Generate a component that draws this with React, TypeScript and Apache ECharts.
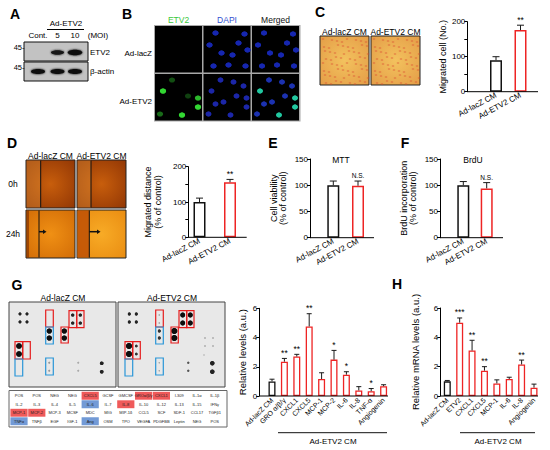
import React, { useEffect, useRef } from 'react';
import * as echarts from 'echarts';

const FONT = 'Arial, "Liberation Sans", Helvetica, sans-serif';
const RED = '#ee2424';
const BLACK = '#111111';

// ---------------- data ----------------
const twoGroups = ['Ad-lacZ CM', 'Ad-ETV2 CM'];

const cValues = [90, 176];
const cErrors = [10, 14];
const cMarks = ['', '**'];
const cTickLabels = [0, 100, 200];

const dValues = [100, 156];
const dErrors = [11, 8];
const dMarks = ['', '**'];
const dTickLabels = [0, 100, 200];

const eValues = [100, 99];
const eErrors = [8, 9];
const eMarks = ['', 'N.S.'];
const eTickLabels = [0, 50, 100, 150];

const fValues = [100, 94];
const fErrors = [7, 11];
const fMarks = ['', 'N.S.'];
const fTickLabels = [0, 50, 100, 150];

const gCategories = ['Ad-lacZ CM', 'GRO α/β/γ', 'CXCL1', 'CXCL5', 'MCP-1', 'MCP-2', 'IL-6', 'IL-8', 'TNF-α', 'Angiogenin'];
const gValues = [1.0, 2.35, 2.7, 4.76, 1.16, 2.49, 1.46, 0.38, 0.33, 0.67];
const gErrors = [0.15, 0.22, 0.15, 0.87, 0.43, 0.63, 0.2, 0.26, 0.18, 0.1];
const gMarks = ['', '**', '**', '**', '', '*', '*', '', '*', ''];
const gTickLabels = [0, 2, 4, 6];

const hCategories = ['Ad-lacZ CM', 'ETV2', 'CXCL1', 'CXCL5', 'MCP-1', 'IL-6', 'IL-8', 'Angiogenin'];
const hValues = [1.0, 5.0, 3.1, 1.73, 0.86, 1.16, 2.15, 0.57];
const hErrors = [0.06, 0.32, 0.7, 0.27, 0.24, 0.12, 0.3, 0.24];
const hMarks = ['', '***', '**', '**', '', '', '**', ''];
const hTickLabels = [0, 2, 4, 6];

// texts of the image panels
const blotLanes = ['Cont.', '5', '10', '(MOI)'];
const blotRows = ['ETV2', 'β-actin'];
const ifColumns = ['ETV2', 'DAPI', 'Merged'];
const ifRows = ['Ad-lacZ', 'Ad-ETV2'];
const scratchRows = ['0h', '24h'];
const arrayTable = [
  ['POS', 'POS', 'NEG', 'NEG', 'CXCL5', 'GCSF', 'GMCSF', 'GROα/β/γ', 'CXCL1', 'I-309', 'IL-1α', 'IL-1β'],
  ['IL-2', 'IL-3', 'IL-4', 'IL-5', 'IL-6', 'IL-7', 'IL-8', 'IL-10', 'IL-12', 'IL-13', 'IL-15', 'IFNγ'],
  ['MCP-1', 'MCP-2', 'MCP-3', 'MCSF', 'MDC', 'MIG', 'MIP-1δ', 'CCL5', 'SCF', 'SDF-1', 'CCL17', 'TGFβ1'],
  ['TNFα', 'TNFβ', 'EGF', 'IGF-1', 'Ang', 'OSM', 'TPO', 'VEGFA', 'PDGFBB', 'Leptin', 'NEG', 'POS'],
];
const arrayUp = [[0, 4], [0, 7], [0, 8], [1, 6], [2, 0], [2, 1]];
const arrayDown = [[1, 4], [3, 0], [3, 4]];

// ---------------- decoration layout (images) ----------------
const nucleiLacZ = [[12, 7], [41, 8], [35, 17], [6, 19], [18, 27], [29, 29], [25, 39], [42, 40], [10, 40], [44, 24]];
const nucleiEtv2 = [[8, 17, 1], [17, 6, 0.3], [33, 22, 0.25], [43, 24, 0.7], [43, 33, 1], [27, 41, 1], [5, 40, 0.4], [30, 8, 0], [20, 28, 0], [40, 12, 0], [12, 30, 0]];

const blot1Dots = [
  [20, 314, 1.4, '#222'], [27, 314, 1.4, '#222'], [20, 322, 1.4, '#222'], [27, 322, 1.4, '#222'],
  [49.3, 331, 2.6, '#111'], [49.3, 338, 2.6, '#111'],
  [64.3, 331, 2.6, '#111'], [64.3, 338, 2.6, '#111'],
  [72.7, 315, 1.6, '#222'], [80.3, 315, 1.6, '#222'], [72.7, 323, 1.6, '#222'], [80.3, 323, 1.6, '#222'],
  [19, 346, 2.8, '#111'], [19, 354, 2.8, '#111'],
  [49.3, 362.7, 0.9, '#999'], [49.3, 370.7, 0.9, '#999'],
  [78.3, 362.7, 0.9, '#aaa'], [78.3, 370.7, 0.9, '#aaa'],
  [101.7, 363.3, 1.8, '#222'], [101.7, 371.7, 1.8, '#222'],
];
const blot2Dots = [
  [129.3, 314, 1.5, '#222'], [136.3, 314, 1.5, '#222'], [129.3, 322, 1.5, '#222'], [136.3, 322, 1.5, '#222'],
  [159.3, 315, 0.8, '#aaa'], [159.3, 323, 0.8, '#aaa'],
  [159.3, 331, 1.5, '#333'], [159.3, 338, 1.5, '#333'],
  [174.3, 331, 3, '#111'], [174.3, 338, 3, '#111'],
  [182.7, 315, 2.4, '#111'], [190.3, 315, 2.4, '#111'], [182.7, 323, 2.4, '#111'], [190.3, 323, 2.4, '#111'],
  [129, 346, 3, '#111'], [129, 354, 3, '#111'], [136.3, 346, 1.3, '#333'], [136.3, 354, 1.3, '#333'],
  [159.3, 362.7, 0.7, '#aaa'], [159.3, 370.7, 0.7, '#aaa'],
  [205, 338, 1, '#bbb'], [213, 338, 1, '#bbb'], [205, 346, 1, '#bbb'], [213, 346, 1, '#bbb'], [204, 355, 1, '#ccc'],
  [188.3, 362.7, 1, '#555'], [188.3, 370.7, 1, '#555'],
  [212.3, 363.3, 2.2, '#222'], [212.3, 371.7, 2.2, '#222'],
];
const blotRedBoxes = [[45.7, 310, 7.6, 17], [61, 327, 7.3, 16], [69, 310.7, 7.7, 17], [76.7, 310.7, 7.3, 17], [15, 341.7, 7.7, 17.3], [22.7, 341.7, 7.6, 17.3]];
const blotBlueBoxes = [[45.7, 327, 7.6, 17], [15, 359, 7.7, 17], [45.7, 358, 7.6, 17]];

// ---------------- helpers ----------------
function txt(text: string, x: number, y: number, size = 8, o: any = {}) {
  const align = o.align || 'center';
  return {
    type: 'text', x, y, z: 60, silent: true, rotation: o.rotation || 0,
    style: {
      text, fill: o.color || '#000', fontSize: size, fontFamily: FONT,
      fontWeight: o.bold ? 'bold' : 'normal',
      align, textAlign: align, verticalAlign: 'middle', textVerticalAlign: 'middle',
    },
  };
}
function rect(x: number, y: number, w: number, h: number, fill: any, stroke?: string, lw = 1, z = 10) {
  return {
    type: 'rect', z, silent: true, shape: { x, y, width: w, height: h },
    style: { fill, stroke: stroke || null, lineWidth: stroke ? lw : 0 },
  };
}
function line(x1: number, y1: number, x2: number, y2: number, stroke = '#000', lw = 1, z = 30) {
  return { type: 'line', z, silent: true, shape: { x1, y1, x2, y2 }, style: { stroke, lineWidth: lw } };
}
function ell(cx: number, cy: number, rx: number, ry: number, fill: string, z = 20, blur = 0) {
  return {
    type: 'ellipse', z, silent: true, shape: { cx, cy, rx, ry },
    style: { fill, shadowBlur: blur, shadowColor: fill },
  };
}
function radial(c0: string, c1: string) {
  return new echarts.graphic.RadialGradient(0.5, 0.5, 0.75, [
    { offset: 0, color: c0 },
    { offset: 1, color: c1 },
  ]);
}

function buildGraphics() {
  const g: any[] = [];
  // panel letters
  const letters: [string, number, number][] = [
    ['A', 15, 13.5], ['B', 127, 13.5], ['C', 320, 12], ['D', 12, 143],
    ['E', 273, 143], ['F', 405, 143], ['G', 17, 285], ['H', 397, 284],
  ];
  letters.forEach(([t, x, y]) => g.push(txt(t, x, y, 14, { bold: true })));

  // ---- A: western blot ----
  g.push(txt('Ad-ETV2', 66, 23.5, 8));
  g.push(line(47, 29.5, 84, 29.5, '#000', 1));
  const laneX = [38, 57.5, 75, 98];
  blotLanes.forEach((t, i) => g.push(txt(t, laneX[i], 35.5, 8)));
  g.push(rect(24, 42, 64, 19, '#c2c2c2', '#111', 1, 10));
  g.push(rect(24, 62, 64, 19, '#c2c2c2', '#111', 1, 10));
  g.push(txt('45-', 24.5, 47, 7.5, { align: 'right' }));
  g.push(txt('45-', 24.5, 67, 7.5, { align: 'right' }));
  g.push(txt(blotRows[0], 90, 52.5, 8, { align: 'left' }));
  g.push(txt(blotRows[1], 90, 71.5, 8, { align: 'left' }));
  g.push(ell(57.5, 52.5, 6.5, 2.2, '#151515', 20, 2));
  g.push(ell(75, 52.5, 7.3, 2.8, '#0d0d0d', 20, 2));
  [38, 57.5, 75].forEach((x) => g.push(ell(x, 71.5, 7, 2.5, '#111', 20, 2)));

  // ---- B: immunofluorescence ----
  const colX = [155, 203.5, 252];
  const rowY = [26, 74];
  const cw = 47, ch = 46.5;
  const ifColors = ['#3cc83c', '#2f4fd0', '#111'];
  ifColumns.forEach((t, i) => g.push(txt(t, colX[i] + cw / 2, 20, 8.5, { color: ifColors[i] })));
  ifRows.forEach((t, i) => g.push(txt(t, 152, rowY[i] + ch / 2 + 4, 8, { align: 'right' })));
  g.push(rect(154, 25, 146.5, 96.5, '#a8a8a8', undefined, 0, 5));
  rowY.forEach((y) => colX.forEach((x) => g.push(rect(x, y, cw, ch, '#000', undefined, 0, 8))));
  [1, 2].forEach((c) =>
    nucleiLacZ.forEach(([nx, ny]) => g.push(ell(colX[c] + nx, rowY[0] + ny, 3, 2.5, '#1628b0', 20, 1))),
  );
  nucleiEtv2.forEach(([nx, ny, a]) => {
    if (a > 0) g.push(ell(colX[0] + nx, rowY[1] + ny, 3.1, 2.6, `rgba(50,215,50,${a})`, 20, 1.5));
    g.push(ell(colX[1] + nx, rowY[1] + ny, 2.8, 2.4, '#1a28a8', 20, 1));
    g.push(ell(colX[2] + nx, rowY[1] + ny, 2.8, 2.4, a > 0.5 ? '#20c8a0' : '#1a30b0', 20, 1));
  });

  // ---- C: transwell images ----
  const cImgX = [320, 371];
  twoGroups.forEach((t, i) => g.push(txt(t, cImgX[i] + 24.5, 31.5, 8.5)));
  cImgX.forEach((x0) => {
    g.push(rect(x0, 36, 49, 49, radial('#f3c25e', '#e39a45'), '#222', 1, 10));
    for (let i = 0; i < 8; i++) {
      for (let j = 0; j < 8; j++) {
        const cx = x0 + 3 + i * 6 + ((i * 3 + j * 5) % 4);
        const cy = 36 + 3 + j * 6 + ((i * 5 + j * 2) % 4);
        g.push(ell(cx, cy, 1.3, 1, 'rgba(220,70,50,0.35)', 12));
      }
    }
  });

  // ---- D: scratch images ----
  const dImgX = [26, 77];
  const dImgY = [160, 210];
  twoGroups.forEach((t, i) => g.push(txt(t, dImgX[i] + 24.5, 155.5, 8.5)));
  scratchRows.forEach((t, i) => g.push(txt(t, 13, dImgY[i] + 24, 8.5)));
  [0, 1].forEach((i) => {
    const x0 = dImgX[i];
    const lx = i === 0 ? 40.7 : 91;
    g.push(rect(x0, 160, 49, 48, radial('#c85e0c', '#8e3404'), '#222', 1, 10));
    g.push(rect(x0 + 0.5, 160.5, lx - x0 - 0.5, 47, 'rgba(235,160,70,0.35)', undefined, 0, 11));
    g.push(line(lx, 160.5, lx, 207.5, '#111', 1));
  });
  g.push(rect(26, 210, 49, 48, radial('#f09014', '#d06a06'), '#222', 1, 10));
  g.push(rect(26.5, 210.5, 2.5, 47, 'rgba(120,40,0,0.6)', undefined, 0, 11));
  g.push(line(39, 210.5, 39, 257.5, '#111', 1));
  g.push(rect(77, 210, 49, 48, radial('#f8ab26', '#e88a10'), '#222', 1, 10));
  g.push(rect(77.5, 210.5, 11.8, 47, 'rgba(190,80,5,0.85)', undefined, 0, 11));
  g.push(line(89.3, 210.5, 89.3, 257.5, '#111', 1));
  [[39, 46.5], [89.3, 100.5]].forEach(([a, b]) => {
    g.push(line(a, 231.7, b - 2.5, 231.7, '#111', 1.5));
    g.push({
      type: 'polygon', z: 31, silent: true,
      shape: { points: [[b, 231.7], [b - 3.5, 229.4], [b - 3.5, 234]] },
      style: { fill: '#111' },
    });
  });

  // ---- E/F titles ----
  g.push(txt('MTT', 341, 159.5, 8.5));
  g.push(txt('BrdU', 473, 159.5, 8.5));

  // ---- G: cytokine arrays ----
  g.push(txt('Ad-lacZ CM', 63, 298, 8.5));
  g.push(txt('Ad-ETV2 CM', 172, 298, 8.5));
  g.push(rect(9, 302, 107, 85, '#e8e8e8', '#444', 1, 10));
  g.push(rect(118, 302, 107, 85, '#e8e8e8', '#444', 1, 10));
  blot1Dots.forEach(([x, y, r, c]: any) => g.push(ell(x, y, r, r, c, 20, r > 2 ? 1 : 0.5)));
  blot2Dots.forEach(([x, y, r, c]: any) => g.push(ell(x, y, r, r, c, 20, r > 2 ? 1 : 0.5)));
  [0, 110].forEach((dx) => {
    blotRedBoxes.forEach(([x, y, w, h]) => g.push(rect(x + dx, y, w, h, 'none', '#e51d1d', 1.2, 25)));
    blotBlueBoxes.forEach(([x, y, w, h]) => g.push(rect(x + dx, y, w, h, 'none', '#2a96d8', 1.2, 25)));
  });
  g.push(rect(9, 390.5, 218, 36.5, '#fff', '#666', 1, 10));
  const colW = 17.8, tx0 = 10.1, rowH = 8.5, ty0 = 391.5;
  arrayUp.forEach(([r, c]) => g.push(rect(tx0 + c * colW + 0.3, ty0 + r * rowH + 0.3, colW - 0.6, rowH - 0.6, '#ef5a5a', undefined, 0, 12)));
  arrayDown.forEach(([r, c]) => g.push(rect(tx0 + c * colW + 0.3, ty0 + r * rowH + 0.3, colW - 0.6, rowH - 0.6, '#729ad6', undefined, 0, 12)));
  arrayTable.forEach((row, r) =>
    row.forEach((t, c) => g.push(txt(t, tx0 + c * colW + colW / 2, ty0 + r * rowH + rowH / 2, 4, { color: '#222' }))),
  );

  // ---- G/H group underline ----
  g.push(line(278, 432.7, 387, 432.7, '#111', 1));
  g.push(txt('Ad-ETV2 CM', 333, 441.5, 8));
  g.push(line(460, 432.7, 535, 432.7, '#111', 1));
  g.push(txt('Ad-ETV2 CM', 498, 441.5, 8));
  return g;
}

// ---------------- bar panels ----------------
const panels = [
  {
    cats: twoGroups, vals: cValues, errs: cErrors, marks: cMarks, ticks: cTickLabels,
    left: 483.75, top: 21.7, width: 49, height: 70, axisX: 467.3, baseEnd: 538, max: 200, interval: 50,
    name: 'Migrated cell (No.)', nameGap: 19, nameSize: 9, barWidth: 12, cap: 3.5, rotate: 28, catSize: 8, bw: 1.5,
  },
  {
    cats: twoGroups, vals: dValues, errs: dErrors, marks: dMarks, ticks: dTickLabels,
    left: 184.25, top: 166.7, width: 61, height: 70.6, axisX: 188.3, baseEnd: 246.7, max: 200, interval: 50,
    name: 'Migrated distance\n(% of control)', nameGap: 26, nameSize: 9, barWidth: 12, cap: 3.5, rotate: 28, catSize: 8, bw: 1.5,
  },
  {
    cats: twoGroups, vals: eValues, errs: eErrors, marks: eMarks, ticks: eTickLabels,
    left: 320.95, top: 159, width: 49.4, height: 78.7, axisX: 310, baseEnd: 374, max: 150, interval: 50,
    name: 'Cell viability\n(% of control)', nameGap: 22, nameSize: 9, barWidth: 12, cap: 3.5, rotate: 28, catSize: 8, bw: 1.5,
  },
  {
    cats: twoGroups, vals: fValues, errs: fErrors, marks: fMarks, ticks: fTickLabels,
    left: 451.6, top: 159, width: 46.8, height: 78.7, axisX: 440, baseEnd: 503, max: 150, interval: 50,
    name: 'BrdU incorporation\n(% of control)', nameGap: 22, nameSize: 9, barWidth: 12, cap: 3.5, rotate: 28, catSize: 8, bw: 1.5,
  },
  {
    cats: gCategories, vals: gValues, errs: gErrors, marks: gMarks, ticks: gTickLabels,
    left: 265.8, top: 308.3, width: 124, height: 87.7, axisX: 259.3, baseEnd: 388, max: 6, interval: 2,
    name: 'Relative levels (a.u.)', nameGap: 12, nameSize: 9.5, barWidth: 7, cap: 2.5, rotate: 45, catSize: 7, bw: 1.3,
  },
  {
    cats: hCategories, vals: hValues, errs: hErrors, marks: hMarks, ticks: hTickLabels,
    left: 441.1, top: 308, width: 99.1, height: 88, axisX: 440.3, baseEnd: 538, max: 6, interval: 2,
    name: 'Relative mRNA levels (a.u.)', nameGap: 20, nameSize: 9.5, barWidth: 7, cap: 2.5, rotate: 45, catSize: 7, bw: 1.3,
  },
];

function buildOption() {
  const grid: any[] = [];
  const xAxis: any[] = [];
  const yAxis: any[] = [];
  const series: any[] = [];
  const graphics = buildGraphics();

  panels.forEach((p, k) => {
    grid.push({ left: p.left, top: p.top, width: p.width, height: p.height, containLabel: false });
    xAxis.push({
      gridIndex: k, type: 'category', data: p.cats,
      axisLine: { show: false }, axisTick: { show: false },
      axisLabel: { rotate: p.rotate, fontSize: p.catSize, color: '#000', margin: 3, interval: 0, fontFamily: FONT },
    });
    const ticks = p.ticks;
    yAxis.push({
      gridIndex: k, type: 'value', min: 0, max: p.max, interval: p.interval,
      offset: p.left - p.axisX,
      axisLine: { show: true, lineStyle: { color: '#000', width: 1 } },
      axisTick: { show: true, length: 3, lineStyle: { color: '#000', width: 1 } },
      axisLabel: {
        fontSize: 8, color: '#000', margin: 2, fontFamily: FONT,
        formatter: (v: number) => (ticks.includes(v) ? String(v) : ''),
      },
      splitLine: { show: false },
      name: p.name, nameLocation: 'middle', nameGap: p.nameGap,
      nameTextStyle: { fontSize: p.nameSize, color: '#000', fontFamily: FONT, lineHeight: 9.5 },
    });
    series.push({
      type: 'bar', xAxisIndex: k, yAxisIndex: k, barWidth: p.barWidth, silent: true,
      data: p.vals.map((v, i) => ({
        value: v,
        itemStyle: { color: '#fff', borderColor: i === 0 ? BLACK : RED, borderWidth: p.bw },
      })),
    });
    series.push({
      type: 'custom', xAxisIndex: k, yAxisIndex: k, silent: true, z: 5,
      data: p.vals.map((v, i) => [i, v, p.errs[i]]),
      encode: { x: 0, y: 1 },
      renderItem: (params: any, api: any) => {
        const i = params.dataIndex;
        const x = api.value(0);
        const v = api.value(1);
        const e = api.value(2);
        const b = api.coord([x, v]);
        const t = api.coord([x, v + e]);
        const children: any[] = [
          { type: 'line', shape: { x1: b[0], y1: b[1], x2: t[0], y2: t[1] }, style: { stroke: '#1a1a1a', lineWidth: 1 } },
          { type: 'line', shape: { x1: t[0] - p.cap, y1: t[1], x2: t[0] + p.cap, y2: t[1] }, style: { stroke: '#1a1a1a', lineWidth: 1 } },
        ];
        const m = p.marks[i];
        if (m) {
          const ns = m === 'N.S.';
          children.push({
            type: 'text', x: t[0], y: t[1] - (ns ? 2 : 1),
            style: {
              text: m, fill: '#000', fontSize: ns ? 6.5 : 8.5, fontFamily: FONT,
              align: 'center', textAlign: 'center', verticalAlign: 'bottom', textVerticalAlign: 'bottom',
            },
          });
        }
        return { type: 'group', children };
      },
    });
    graphics.push(line(p.axisX, p.top + p.height, p.baseEnd, p.top + p.height, '#000', 1, 40));
  });

  return {
    animation: false,
    backgroundColor: '#fff',
    grid, xAxis, yAxis, series,
    graphic: { elements: graphics },
  };
}

export default function App() {
  const ref = useRef<HTMLDivElement>(null);
  useEffect(() => {
    const chart = echarts.init(ref.current as HTMLDivElement, null, { renderer: 'svg', width: 550, height: 450 });
    chart.setOption(buildOption() as any);
    return () => chart.dispose();
  }, []);
  return (
    <div
      ref={ref}
      style={{ position: 'absolute', left: 0, top: 0, width: 550, height: 450, background: '#fff' }}
    />
  );
}
